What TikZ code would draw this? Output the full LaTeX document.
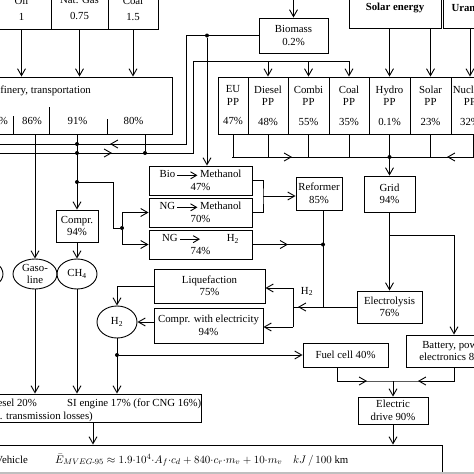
\documentclass[tikz,border=0pt]{standalone}
\usepackage{amsmath}
\usepackage{fontspec}
\setmainfont{Liberation Serif}
\usetikzlibrary{shapes.geometric, arrows.meta}

\newcommand{\flowarr}{\tikz[baseline=-2.6pt] \draw[line width=0.9pt, -{Straight Barb[length=6pt, width=7pt]}] (0pt, 0pt) -- (20pt, 0pt);}

\begin{document}
\begin{tikzpicture}[
	x=1pt, y=-1pt,
	font=\fontsize{10.8}{12.5}\selectfont,
	text centered,
	block/.style={
	  rectangle,
	  draw,
	  line width=0.9pt,
	  inner sep=0pt,
	  align=center
	},
	oval/.style={
	  ellipse,
	  draw,
	  line width=0.9pt,
	  inner sep=0pt,
	  align=center
	},
	dims/.style 2 args={minimum width=#1pt, minimum height=#2pt},
	line/.style={draw, line width=0.9pt},
	flow/.style={line, -{Straight Barb[length=7pt, width=8pt]}},
	dot/.style={circle, fill, inner sep=0pt, minimum size=4pt},
	txt/.style={inner sep=0pt}
	]
	\useasboundingbox (0, 0) rectangle (474, 474);
	\clip (0, 0) rectangle (474, 474);
	\node [block, dims={59}{41}] at (21.5, 8.5) (oil) {Oil\\[3.5pt]1};
	\node [block, dims={57}{41}] at (79.5, 8.5) (gas) {Nat. Gas\\[3.5pt]0.75};
	\node [block, dims={50}{41}] at (133, 8.5) (coal) {Coal\\[3.5pt]1.5};
	\node [block, dims={92}{40}] at (395, 8) (solar) {\textbf{Solar energy}};
	\node [block, dims={59}{40}] at (472.5, 8) (uran) {\textbf{Uranium}};
	\node [block, dims={69}{35}] at (293.5, 35.5) (biomass) {Biomass\\0.2\%};
	\node [block, dims={212}{57}] at (66, 105.5) (refinery) {};
	\node [txt, anchor=base east] at (91, 93) (reflab) {Refinery, transportation};
	\node [txt, anchor=base east] at (8, 124) (refdsl) {88\%};
	\node [txt, anchor=base] at (32, 124) (refgas) {86\%};
	\node [txt, anchor=base] at (77.5, 124) (refng) {91\%};
	\node [txt, anchor=base] at (133.5, 124) (refcoal) {80\%};
	\node [block, dims={30}{57}] at (233, 105.5) (eu) {EU\\PP\\[7pt]47\%};
	\node [block, dims={40}{57}] at (268, 105.5) (diesel) {Diesel\\PP\\[7pt]48\%};
	\node [block, dims={41}{57}] at (308.5, 105.5) (combi) {Combi\\PP\\[7pt]55\%};
	\node [block, dims={40}{57}] at (349, 105.5) (coalpp) {Coal\\PP\\[7pt]35\%};
	\node [block, dims={41}{57}] at (389.5, 105.5) (hydro) {Hydro\\PP\\[7pt]0.1\%};
	\node [block, dims={41}{57}] at (430.5, 105.5) (solarpp) {Solar\\PP\\[7pt]23\%};
	\node [block, dims={38}{57}] at (470, 105.5) (nuclear) {Nuclear\\PP\\[7pt]32\%};
	\node [block, dims={103}{29}] at (200.5, 180.5) (biometh) {Bio\,\flowarr\,Methanol\\47\%};
	\node [block, dims={103}{29}] at (200.5, 212.5) (ngmeth) {NG\,\flowarr\,Methanol\\70\%};
	\node [block, dims={103}{29}] at (200.5, 244.5) (ngh) {NG\,\flowarr\hspace{26pt}H\textsubscript{2}\\74\%};
	\node [block, dims={46}{33}] at (319, 193.5) (reformer) {Reformer\\85\%};
	\node [block, dims={51}{36}] at (389.5, 194) (grid) {Grid\\94\%};
	\node [block, dims={42}{32}] at (77, 226) (compr) {Compr.\\94\%};
	\node [oval, dims={44}{30}] at (-19, 274) (dsl) {Die-\\sel};
	\node [oval, dims={44}{30}] at (35, 274) (gasoline) {Gaso-\\line};
	\node [oval, dims={40}{30}] at (77, 274) (ch4) {CH\textsubscript{4}};
	\node [block, dims={111}{34}] at (209.5, 286) (liquefaction) {Liquefaction\\75\%};
	\node [block, dims={109}{35}] at (208.5, 325.5) (comprel) {Compr. with electricity\\94\%};
	\node [oval, dims={40}{32}] at (117, 322) (h2) {H\textsubscript{2}};
	\node [block, dims={65}{32}] at (389.5, 307) (electrolysis) {Electrolysis\\76\%};
	\node [txt, anchor=base] at (307, 294) (h2lab) {H\textsubscript{2}};
	\node [block, dims={85}{24}] at (345.5, 355) (fuelcell) {Fuel cell 40\%};
	\node [block, dims={96}{32}] at (454, 351) (battery) {Battery, power\\electronics 85\%};
	\node [block, dims={261}{28}] at (70.5, 408) (engine) {};
	\node [txt, anchor=base east] at (37, 406) (englab) {Diesel 20\%};
	\node [txt, anchor=base west] at (67, 406) (silab) {SI engine 17\% (for CNG 16\%)};
	\node [txt, anchor=base east] at (93, 419) (losslab) {(incl. transmission losses)};
	\node [block, dims={70}{27}] at (393, 410.5) (drive) {Electric\\drive 90\%};
	\node [block, dims={502}{27}] at (191, 458.5) (vehicle) {};
	\node [txt, anchor=base east] at (28, 463) (vehlab) {Vehicle};
	\node [txt, anchor=base west] at (55, 463) (eq) {$\bar{E}_{MVEG\text{-}95} \approx 1.9{\cdot}10^4{\cdot}A_f{\cdot}c_d + 840{\cdot}c_r{\cdot}m_v + 10{\cdot}m_v \quad kJ\,/\,100$ km};
	\fill [black!25] (0, 471.5) rectangle (474, 474);
	\node [dot] at (207, 35.5) (d1) {};
	\node [dot] at (77, 144) (d2) {};
	\node [dot] at (77, 153) (d3) {};
	\node [dot] at (145, 153) (d4) {};
	\node [dot] at (77, 182) (d5) {};
	\node [dot] at (122, 228) (d6) {};
	\node [dot] at (323, 244.5) (d7) {};
	\node [dot] at (389.5, 157) (d8) {};
	\node [dot] at (117, 355) (d9) {};
	\coordinate (bioin) at (293.5, -14);
	\coordinate (fuelbus) at (193, 61);
	\coordinate (ebus) at (232, 157);
	\coordinate (refin) at (263, 196);
	\coordinate (hsplit) at (293, 307);
	\coordinate (hup) at (293, 288);
	\coordinate (hdn) at (293, 327);
	\coordinate (gsplit) at (389.5, 235);
	\coordinate (fcout) at (337, 367);
	\coordinate (dbus) at (393, 381);
	\coordinate (engout) at (93, 422);
	\draw [flow] (oil.south) -- (oil.south |- refinery.north);
	\draw [flow] (gas.south) -- (gas.south |- refinery.north);
	\draw [flow] (coal.south) -- (coal.south |- refinery.north);
	\draw [flow] (bioin) -- (biomass.north);
	\draw [flow] (hydro.north |- solar.south) -- (hydro.north);
	\draw [flow] (solarpp.north |- solar.south) -- (solarpp.north);
	\draw [flow] (nuclear.north |- uran.south) -- (nuclear.north);
	\draw [line] (13, 116) -- (13, 134);
	\draw [line] (49, 107) -- (49, 134);
	\draw [line] (107, 119) -- (107, 134);
	\path [line] (biomass.west) -| (186, 144) -- (-5, 144);
	\draw [flow] (186, 144) -- (110, 144);
	\draw [flow] (d1) -- (d1 |- biometh.north);
	\draw [flow] (-5, 153) -| (fuelbus) -| (coalpp.north);
	\draw [flow] (-5, 153) -- (112, 153);
	\draw [flow] (diesel.north |- fuelbus) -- (diesel.north);
	\draw [flow] (combi.north |- fuelbus) -- (combi.north);
	\draw [flow] (gasoline.north |- refinery.south) -- (gasoline.north);
	\draw [flow] (compr.north |- refinery.south) -- (compr.north);
	\path [line] (d4 |- refinery.south) -- (d4);
	\path [line] (d5) -| (113, 228) -- (d6);
	\draw [flow] (d6) |- (ngmeth.west);
	\draw [flow] (d6) |- (ngh.west);
	\path [line] (biometh.east) -| (refin) |- (ngmeth.east);
	\draw [flow] (refin) -- (refin -| reformer.west);
	\path [line] (ngh.east) -- (d7);
	\draw [flow] (ngh.east) -- (288, 244.5);
	\path [line] (d7 |- reformer.south) -- (d7 |- hsplit);
	\path [line] (electrolysis.west) -- (hsplit);
	\draw [flow] (electrolysis.west) -- (298, 307);
	\path [line] (hup) -- (hdn);
	\draw [flow] (hup) -- (hup -| liquefaction.east);
	\draw [flow] (hdn) -- (hdn -| comprel.east);
	\path [line] (eu.south) |- (473, 157) -- (473, 134);
	\path [line] (diesel.south) -- (diesel.south |- ebus);
	\path [line] (combi.south) -- (combi.south |- ebus);
	\path [line] (coalpp.south) -- (coalpp.south |- ebus);
	\path [line] (hydro.south) -- (d8);
	\path [line] (solarpp.south) -- (solarpp.south |- ebus);
	\draw [flow] (ebus) -- (292, 157);
	\draw [flow] (473, 157) -- (447, 157);
	\draw [flow] (d8) -- (grid.north);
	\draw [flow] (grid.south) -- (electrolysis.north);
	\draw [flow] (gsplit) -| (battery.north);
	\draw [flow] (liquefaction.west) -| (h2.north);
	\draw [flow] (comprel.west |- h2.east) -- (h2.east);
	\draw [flow] (compr.south) -- (ch4.north);
	\draw [flow] (gasoline.south) -- (gasoline.south |- engine.north);
	\draw [flow] (ch4.south) -- (ch4.south |- engine.north);
	\draw [flow] (h2.south) -- (h2.south |- engine.north);
	\draw [flow] (d9) -- (d9 -| fuelcell.west);
	\path [line] (fcout) |- (dbus) -| (battery.south);
	\draw [flow] (fcout |- dbus) -- (367, 381);
	\draw [flow] (battery.south |- dbus) -- (418, 381);
	\draw [flow] (dbus) -- (drive.north);
	\draw [flow] (drive.south) -- (drive.south |- vehicle.north);
	\draw [flow] (engout) -- (engout |- vehicle.north);
\end{tikzpicture}
\end{document}
